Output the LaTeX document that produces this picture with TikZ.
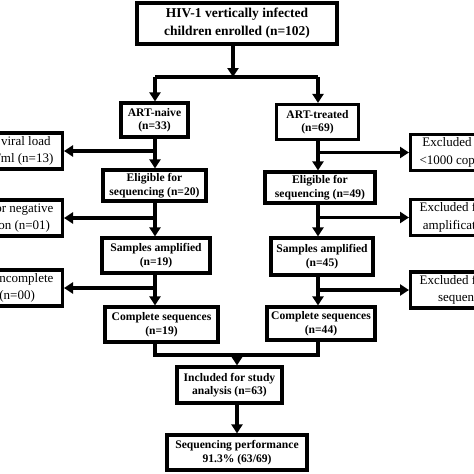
\documentclass[tikz,border=0pt]{standalone}
\usepackage{fontspec}
\setmainfont{Liberation Serif}
\usetikzlibrary{arrows.meta}

\tikzset{
  box/.style={draw,line width=3.2pt,align=center,inner sep=1pt,
    font=\bfseries\fontsize{11.6}{13.5}\selectfont},
  side/.style={draw,line width=3.2pt,align=center,inner xsep=9pt,inner ysep=2pt,
    minimum height=36pt,font=\fontsize{13}{17.5}\selectfont},
  arr/.style={line width=3.2pt,-{Triangle[length=9pt,width=11pt]}},
  ln/.style={line width=3.2pt}
}

\begin{document}
\begin{tikzpicture}[x=1pt,y=-1pt]
  \useasboundingbox (0,0) rectangle (474,474);
  \clip (0,0) rectangle (474,474);

  \node[box,minimum width=200pt,minimum height=41pt,
    font=\bfseries\fontsize{13.5}{18}\selectfont]
  (enrolled) at (237, 23.5) {HIV-1 vertically infected\\children enrolled (n=102)};

  \node[box,minimum width=67pt,minimum height=34pt]
  (naive) at (154.5, 120) {ART-naive\\(n=33)};
  \node[box,minimum width=82pt,minimum height=35pt]
  (treated) at (317.5, 122) {ART-treated\\(n=69)};

  \node[box,minimum width=103pt,minimum height=31pt]
  (eligL) at (154.5, 185.5) {Eligible for\\sequencing (n=20)};
  \node[box,minimum width=110pt,minimum height=31pt]
  (eligR) at (320, 187.5) {Eligible for\\sequencing (n=49)};

  \node[box,minimum width=108pt,minimum height=35pt]
  (ampL) at (156, 255.5) {Samples amplified\\(n=19)};
  \node[box,minimum width=102pt,minimum height=37pt]
  (ampR) at (322, 256.5) {Samples amplified\\(n=45)};

  \node[box,minimum width=113pt,minimum height=35pt]
  (compL) at (161.5, 324.5) {Complete sequences\\(n=19)};
  \node[box,minimum width=108pt,minimum height=33pt]
  (compR) at (321, 323.5) {Complete sequences\\(n=44)};

  \node[box,minimum width=105pt,minimum height=36pt]
  (study) at (229.5, 385) {Included for study\\analysis (n=63)};
  \node[box,minimum width=140pt,minimum height=35pt]
  (perf) at (237, 452.5) {Sequencing performance\\91.3\% (63/69)};

  % excluded boxes, cut by the frame
  \node[side,anchor=east] (exL1) at (64, 151) {Excluded for viral load\\<1000 copies/ml (n=13)};
  \node[side,anchor=east] (exL2) at (64, 218) {Excluded for negative\\amplification (n=01)};
  \node[side,anchor=east] (exL3) at (64, 288) {Excluded for incomplete\\sequences (n=00)};
  \node[side,anchor=west] (exR1) at (409, 152.5) {Excluded for viral load\\<1000 copies/ml (n=20)};
  \node[side,anchor=west] (exR2) at (409, 217.5) {Excluded for negative\\amplification (n=04)};
  \node[side,anchor=west] (exR3) at (409, 290) {Excluded for incomplete\\sequences (n=01)};

  \coordinate (trunkL) at (155, 0);
  \coordinate (trunkR) at (318, 0);
  \coordinate (split) at (233, 77);
  \coordinate (join) at (237, 355);

  \draw[arr] (enrolled.south -| split) -- (split);
  \draw[ln] (split -| trunkL) -- (split -| trunkR);
  \draw[arr] (split -| trunkL) -- (naive.north -| trunkL);
  \draw[arr] (split -| trunkR) -- (treated.north -| trunkR);

  \draw[arr] (naive.south -| trunkL) -- (eligL.north -| trunkL);
  \draw[arr] (eligL.south -| trunkL) -- (ampL.north -| trunkL);
  \draw[arr] (ampL.south -| trunkL) -- (compL.north -| trunkL);
  \draw[arr] (treated.south -| trunkR) -- (eligR.north -| trunkR);
  \draw[arr] (eligR.south -| trunkR) -- (ampR.north -| trunkR);
  \draw[arr] (ampR.south -| trunkR) -- (compR.north -| trunkR);

  \draw[arr] (exL1 -| trunkL) -- (exL1.east);
  \draw[arr] (exL2 -| trunkL) -- (exL2.east);
  \draw[arr] (exL3 -| trunkL) -- (exL3.east);
  \draw[arr] (exR1 -| trunkR) -- (exR1.west);
  \draw[arr] (exR2 -| trunkR) -- (exR2.west);
  \draw[arr] (exR3 -| trunkR) -- (exR3.west);

  \draw[ln] (compL.south -| trunkL) |- (join) -| (compR.south -| trunkR);
  \draw[arr] (join) -- (study.north -| join);
  \draw[arr] (study.south -| join) -- (perf.north -| join);
\end{tikzpicture}
\end{document}
